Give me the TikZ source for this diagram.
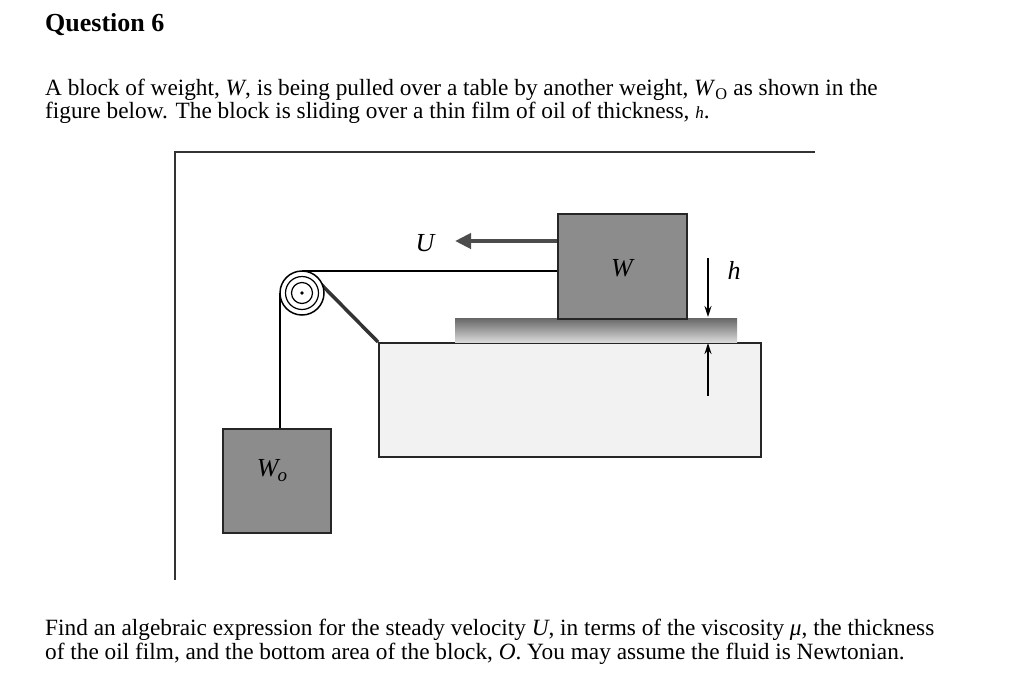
\documentclass[tikz,border=0pt]{standalone}
\usepackage{fontspec}
\setmainfont{Liberation Serif}
\usetikzlibrary{arrows.meta}
\begin{document}
\begin{tikzpicture}[x=1pt,y=-1pt,
  txt/.style={anchor=west,inner sep=0pt,font=\fontsize{23.3}{23}\selectfont},
  blk/.style={draw=black!85,line width=2.2pt,fill=black!45},
  lbl/.style={inner sep=0pt,font=\fontsize{26}{26}\selectfont\itshape}]
\useasboundingbox (0,0) rectangle (1024,680);
\node[anchor=west,inner sep=0pt,font=\fontsize{26}{26}\selectfont\bfseries] (title) at (45,25) {Question 6};
\node[txt] (p1) at (45,90) {A block of weight, \textit{W}, is being pulled over a table by another weight, \textit{W}\textsubscript{O} as shown in the};
\node[txt] (p2) at (45,113) {figure below. The block is sliding over a thin film of oil of thickness, \textit{\fontsize{17}{17}\selectfont h}.};
\node[txt] (q1) at (45,630) {Find an algebraic expression for the steady velocity \textit{U}, in terms of the viscosity \textit{μ}, the thickness};
\node[txt] (q2) at (45,654) {of the oil film, and the bottom area of the block, \textit{O}. You may assume the fluid is Newtonian.};
% frame
\draw[line width=1.5pt,black!80] (175,580) -- (175,152) -- (815,152);
% table
\node[draw=black!85,line width=2pt,fill=black!5,minimum width=382,minimum height=114,inner sep=0,anchor=north west] (table) at (378,342) {};
% film
\shade[top color=black!60,bottom color=black!15] (455,318) rectangle (737,342);
% block W
\node[blk,minimum width=129,minimum height=105,inner sep=0,anchor=north west] (W) at (557,213) {};
\node[lbl] at (622,268) {W};
% pulley
\coordinate (pc) at (302,293);
\draw[line width=3.5pt,black!80] (pc) ++(-35:20) -- (table.north west);
\draw[line width=1.5pt,fill=white] (pc) circle (22);
\draw[line width=1.2pt] (pc) circle (16.5);
\draw[line width=1.2pt] (pc) circle (10.5);
\fill (pc) circle (1.8);
% rope
\draw[line width=1.8pt] (302,271) -- (W.west |- 0,271);
\draw[line width=1.8pt] (280,293) -- (280,428);
% block Wo
\node[blk,minimum width=108,minimum height=104,inner sep=0,anchor=north west] (Wo) at (222,428) {};
\node[lbl] at (272,471) {W\kern-1pt\raisebox{-5pt}{\fontsize{19}{19}\selectfont o}};
% U arrow
\draw[line width=4pt,black!70,-{Triangle[length=16pt,width=15pt]}] (W.west |- 0,241) -- (455,241);
\node[lbl] at (425,243) {U};
% h arrows
\draw[line width=1.5pt,-{Stealth[length=11pt,width=7pt]}] (708,258) -- (708,317);
\draw[line width=1.5pt,-{Stealth[length=11pt,width=7pt]}] (708,396) -- (708,343);
\node[lbl] at (734,270) {h};
\end{tikzpicture}
\end{document}
